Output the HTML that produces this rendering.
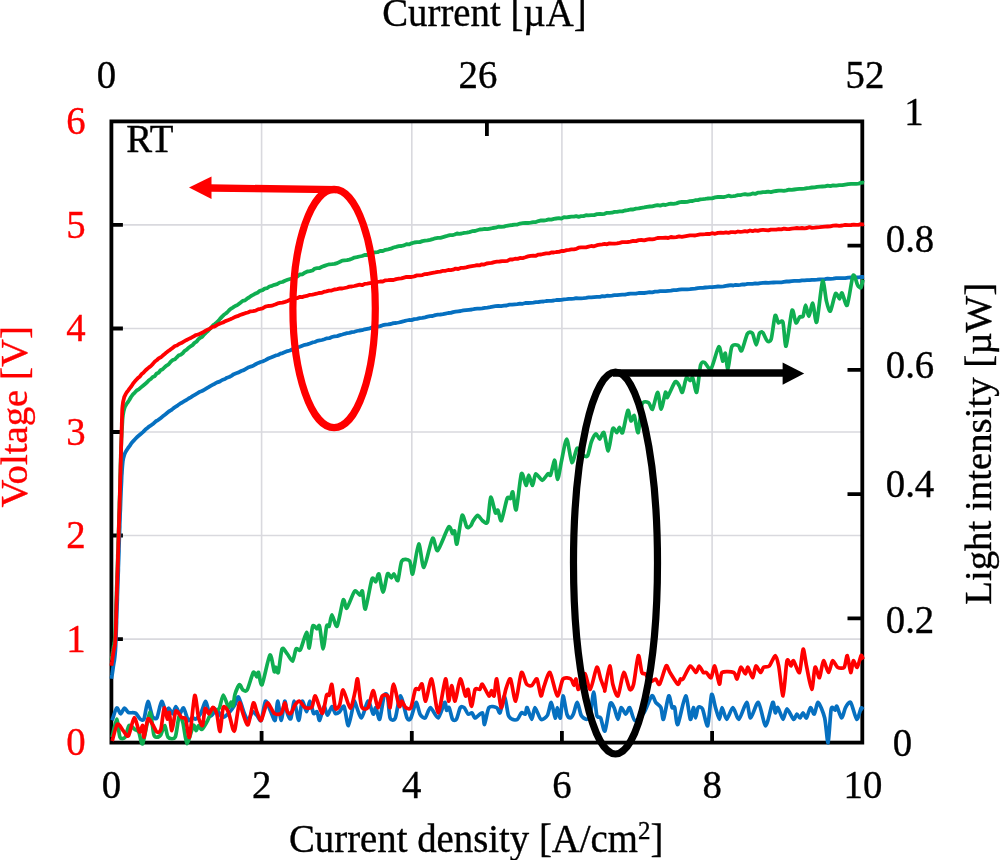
<!DOCTYPE html>
<html lang="en"><head><meta charset="utf-8"><title>I-V-L characteristics</title>
<style>html,body{margin:0;padding:0;background:#fff}body{width:1000px;height:860px;overflow:hidden}svg{display:block}text{font-family:"Liberation Serif","Times New Roman",serif;font-size:38.8px;stroke-width:.35px}</style></head><body>
<svg width="1000" height="860" viewBox="0 0 1000 860">
<rect width="1000" height="860" fill="#fff"/>
<path d="M261.6,121.4 V742.6 M411.8,121.4 V742.6 M561.9,121.4 V742.6 M712.1,121.4 V742.6 M111.4,639.1 H862.3 M111.4,535.5 H862.3 M111.4,432.0 H862.3 M111.4,328.5 H862.3 M111.4,224.9 H862.3" stroke="#d9d9de" stroke-width="1.6" fill="none"/>
<path d="M111.4,639.1 h11.5 M111.4,535.5 h11.5 M111.4,432.0 h11.5 M111.4,328.5 h11.5 M111.4,224.9 h11.5 M862.3,618.4 h-14.8 M862.3,494.1 h-14.8 M862.3,369.9 h-14.8 M862.3,245.6 h-14.8 M261.6,742.6 v-11.5 M411.8,742.6 v-11.5 M561.9,742.6 v-11.5 M712.1,742.6 v-11.5 M486.9,121.4 v14.7" stroke="#000" stroke-width="3.8" fill="none"/>
<rect x="111.4" y="121.4" width="750.9" height="621.2" fill="none" stroke="#000" stroke-width="3.8"/>
<path d="M111.4,678.7 L111.6,677.2 L112.0,675.1 L112.4,672.6 L112.8,669.9 L113.2,667.0 L113.5,665.0 L113.8,663.1 L114.2,661.2 L114.5,659.0 L114.8,656.5 L115.1,653.6 L115.4,650.0 L115.5,648.1 L115.6,646.0 L115.7,643.7 L115.8,641.3 L115.9,638.9 L116.0,636.3 L116.1,633.6 L116.2,630.9 L116.3,628.1 L116.4,625.4 L116.5,622.6 L116.5,619.9 L116.6,617.2 L116.7,614.5 L116.8,612.0 L116.9,609.4 L117.0,606.8 L117.1,604.3 L117.2,601.9 L117.3,599.4 L117.3,597.0 L117.4,594.6 L117.5,592.1 L117.6,589.5 L117.7,586.9 L117.8,584.1 L117.9,581.2 L118.0,578.2 L118.1,575.0 L118.2,572.7 L118.3,570.4 L118.3,567.9 L118.4,565.4 L118.5,562.7 L118.6,560.0 L118.7,557.3 L118.8,554.5 L118.9,551.6 L118.9,548.8 L119.0,546.0 L119.1,543.1 L119.2,540.3 L119.3,537.5 L119.4,534.8 L119.5,532.1 L119.6,529.5 L119.7,527.0 L119.7,524.5 L119.8,522.2 L119.9,520.0 L120.0,516.6 L120.1,513.3 L120.3,510.1 L120.4,507.1 L120.5,504.1 L120.6,501.3 L120.7,498.6 L120.8,496.0 L120.9,493.6 L121.0,491.2 L121.1,489.0 L121.2,486.9 L121.3,485.0 L121.5,480.8 L121.6,477.7 L121.7,475.3 L121.9,473.2 L122.0,471.0 L122.2,468.2 L122.4,465.7 L122.6,463.5 L122.8,461.5 L123.3,458.4 L124.0,456.0 L124.5,454.2 L125.7,451.7 L126.8,450.0 L128.1,448.0 L129.7,445.9 L131.4,443.3 L133.3,441.1 L135.0,439.3 L136.9,437.2 L138.9,435.5 L141.0,433.7 L143.2,431.9 L145.4,429.6 L147.4,428.0 L149.4,426.3 L151.4,425.1 L153.6,423.4 L155.8,421.3 L158.1,420.1 L160.5,418.3 L162.5,416.6 L164.5,415.1 L166.7,413.2 L168.8,411.5 L171.1,410.2 L173.3,408.4 L175.5,406.8 L177.8,405.3 L180.0,403.7 L182.2,402.5 L184.3,401.1 L186.4,400.0 L188.6,398.5 L190.7,397.3 L192.9,395.9 L195.2,394.6 L197.6,393.2 L200.0,391.7 L202.0,391.0 L204.1,389.8 L206.1,388.6 L208.2,387.4 L210.3,386.1 L212.5,384.9 L214.8,383.7 L217.1,382.4 L219.6,381.6 L222.2,380.0 L225.0,379.0 L227.0,377.7 L229.2,377.0 L231.4,375.8 L233.8,374.2 L236.2,373.2 L238.7,372.4 L241.2,371.0 L243.8,370.1 L246.3,368.6 L248.8,367.2 L251.3,366.4 L253.7,365.4 L256.1,364.0 L258.3,362.9 L260.5,362.0 L262.5,361.5 L265.5,360.1 L268.3,358.5 L270.9,357.5 L273.4,356.4 L275.8,355.4 L278.1,355.0 L280.4,353.7 L282.7,353.1 L285.1,352.1 L287.5,351.1 L290.0,350.5 L292.5,349.2 L294.9,348.6 L297.4,347.4 L299.8,346.7 L302.3,345.7 L304.8,344.8 L307.3,344.4 L309.9,343.5 L312.5,342.4 L314.9,342.0 L317.2,340.9 L319.6,340.4 L322.0,340.0 L324.4,339.2 L326.9,338.3 L329.3,338.2 L331.9,337.0 L334.5,336.4 L337.2,336.1 L340.0,335.1 L342.3,334.5 L344.6,333.8 L347.0,333.2 L349.4,332.9 L351.9,332.1 L354.4,331.8 L356.9,331.0 L359.5,330.5 L362.1,330.2 L364.7,329.3 L367.3,328.8 L369.9,328.3 L372.4,327.4 L375.0,326.8 L377.6,326.7 L380.2,326.1 L382.8,325.2 L385.5,324.6 L388.1,324.4 L390.8,324.0 L393.5,323.1 L396.1,323.0 L398.8,322.5 L401.4,321.8 L404.0,321.2 L406.5,320.5 L409.0,320.0 L411.5,320.1 L414.3,319.1 L417.0,318.9 L419.7,318.1 L422.4,317.9 L425.0,317.3 L427.5,316.6 L430.1,316.1 L432.6,316.0 L435.2,315.1 L437.8,314.7 L440.4,314.5 L443.0,314.2 L445.6,313.6 L448.2,313.0 L450.7,312.9 L453.1,312.1 L455.6,311.6 L458.2,311.3 L460.7,311.0 L463.4,310.4 L466.1,310.1 L468.9,309.8 L471.9,309.5 L475.0,308.8 L477.3,308.6 L479.7,308.6 L482.2,308.4 L484.8,307.9 L487.4,307.6 L490.1,307.2 L492.8,306.6 L495.5,306.2 L498.3,305.9 L501.1,306.1 L503.9,305.7 L506.6,305.5 L509.4,304.7 L512.1,304.7 L514.8,304.4 L517.4,304.2 L520.0,303.7 L522.7,303.8 L525.4,303.0 L528.0,303.0 L530.7,302.8 L533.3,302.6 L535.9,302.2 L538.5,302.0 L541.1,301.7 L543.7,301.5 L546.2,301.0 L548.8,300.9 L551.3,300.8 L553.9,300.5 L556.4,300.0 L558.9,300.0 L561.4,299.8 L564.0,299.4 L566.6,299.2 L569.0,298.9 L571.5,298.8 L573.9,298.6 L576.3,298.1 L578.6,298.3 L581.1,298.3 L583.5,298.1 L586.0,297.8 L588.6,297.4 L591.3,297.4 L594.1,297.1 L597.0,296.8 L600.0,296.8 L602.3,296.2 L604.6,296.4 L607.0,295.7 L609.4,295.9 L611.9,295.6 L614.5,295.2 L617.0,295.2 L619.7,294.9 L622.3,294.7 L625.0,294.7 L627.7,294.0 L630.4,293.7 L633.2,293.6 L635.9,293.6 L638.7,293.0 L641.4,292.8 L644.2,293.0 L646.9,292.6 L649.6,292.2 L652.3,292.3 L655.0,291.7 L657.6,291.7 L660.2,291.2 L662.8,291.1 L665.5,291.1 L668.2,290.9 L670.9,290.7 L673.6,290.2 L676.4,290.1 L679.1,289.7 L681.8,289.3 L684.6,289.3 L687.3,289.3 L689.9,289.1 L692.6,288.8 L695.2,288.7 L697.8,288.1 L700.3,287.9 L702.8,287.8 L705.2,287.5 L707.5,287.3 L709.8,287.2 L712.0,287.2 L715.1,286.8 L718.0,286.5 L720.8,286.6 L723.5,286.4 L726.0,285.9 L728.5,285.5 L730.9,285.2 L733.3,285.5 L735.6,284.8 L738.0,285.1 L740.3,284.8 L742.6,284.4 L745.0,284.5 L747.5,283.9 L750.0,283.8 L752.6,283.8 L755.2,283.4 L757.8,283.7 L760.4,283.1 L763.0,282.9 L765.7,282.7 L768.3,282.9 L770.9,282.6 L773.6,282.5 L776.2,282.4 L778.8,282.3 L781.4,282.3 L783.9,281.9 L786.5,281.5 L789.0,281.5 L791.7,281.1 L794.3,280.8 L796.9,280.9 L799.4,280.9 L802.0,280.4 L804.5,280.3 L807.0,280.1 L809.5,280.2 L812.0,279.9 L814.6,279.8 L817.1,279.7 L819.7,279.3 L822.3,279.3 L825.0,279.2 L827.6,278.6 L830.4,278.9 L833.2,278.6 L836.2,278.1 L839.2,278.1 L842.3,278.1 L845.3,278.1 L848.2,277.6 L851.1,277.5 L853.8,277.6 L856.3,277.4 L858.6,277.4 L860.7,277.0 L862.5,277.0 L864.0,276.8" fill="none" stroke="#0670c0" stroke-width="3.8" stroke-linejoin="round" stroke-linecap="butt"/>
<path d="M112.2,720.3 C112.7,718.8 115.6,708.8 116.7,708.0 C117.8,707.1 119.6,713.8 120.6,713.8 C121.6,713.8 123.5,708.1 124.5,708.0 C125.5,707.8 127.0,711.9 128.4,712.5 C129.8,713.1 134.1,712.3 135.6,713.1 C137.0,714.0 139.0,718.3 140.1,719.0 C141.2,719.7 143.0,721.2 144.0,719.0 C145.0,716.8 146.8,701.8 147.9,701.5 C149.0,701.1 151.3,714.4 152.4,716.4 C153.6,718.4 155.9,719.6 157.0,717.7 C158.1,715.8 160.4,702.1 161.6,701.5 C162.7,700.8 165.2,711.7 166.1,712.5 C167.0,713.3 167.9,707.8 168.7,708.0 C169.5,708.1 171.7,714.0 172.6,713.8 C173.5,713.6 175.0,706.6 175.8,706.6 C176.7,706.6 178.8,713.6 179.8,713.8 C180.7,714.0 182.6,707.1 183.6,708.0 C184.7,708.8 187.1,719.1 188.2,720.3 C189.3,721.5 191.1,717.9 192.1,717.7 C193.1,717.5 194.9,719.6 196.0,719.0 C197.1,718.4 200.0,714.7 201.2,712.5 C202.4,710.3 204.6,701.0 205.8,701.5 C206.9,701.9 208.9,715.0 210.3,716.0 C211.7,717.0 215.3,709.3 216.8,709.5 C218.3,709.7 220.5,716.8 222.0,717.3 C223.5,717.8 226.9,715.0 228.5,713.4 C230.1,711.8 233.8,706.8 235.0,704.7 C236.2,702.6 237.4,696.0 238.5,696.9 C239.6,697.7 242.5,708.7 243.7,711.7 C244.9,714.6 247.0,720.4 248.1,720.4 C249.2,720.4 251.4,712.3 252.5,711.7 C253.5,711.0 255.7,714.1 256.8,715.2 C257.9,716.3 260.1,722.2 261.2,720.4 C262.3,718.7 264.3,702.3 265.5,701.2 C266.7,700.1 269.6,709.3 270.8,711.7 C272.0,714.1 274.3,721.7 275.1,720.4 C276.0,719.1 277.0,701.2 277.8,701.2 C278.5,701.2 280.4,720.4 281.2,720.4 C282.1,720.4 284.0,702.1 284.7,701.2 C285.5,700.3 286.6,711.3 287.4,713.4 C288.1,715.6 290.0,720.2 290.8,718.7 C291.7,717.1 293.4,701.0 294.3,701.2 C295.3,701.4 297.7,720.4 298.7,720.4 C299.7,720.4 301.2,702.3 302.2,701.2 C303.2,700.1 305.6,711.7 306.6,711.7 C307.5,711.7 309.2,701.0 310.0,701.2 C310.9,701.4 312.7,712.1 313.5,713.4 C314.4,714.7 316.3,710.8 317.0,711.7 C317.8,712.6 318.8,721.1 319.6,720.4 C320.5,719.8 323.0,707.1 324.0,706.5 C325.0,705.8 326.5,715.2 327.5,715.2 C328.5,715.2 330.9,706.7 331.9,706.5 C332.8,706.2 334.4,712.8 335.3,713.4 C336.3,714.1 338.6,712.6 339.7,711.7 C340.8,710.8 343.0,704.7 344.1,706.5 C345.2,708.2 347.2,726.1 348.4,725.7 C349.6,725.2 352.9,705.9 353.7,703.0 C354.5,700.1 354.0,700.5 355.0,702.4 C356.0,704.3 359.9,718.2 361.5,718.0 C363.1,717.8 366.5,701.6 368.0,701.1 C369.5,700.6 372.2,713.3 373.2,714.1 C374.2,714.9 375.0,707.0 375.8,707.6 C376.6,708.2 378.7,720.8 379.7,719.3 C380.7,717.8 383.1,698.8 384.1,695.9 C385.1,693.0 386.8,693.1 387.5,695.9 C388.2,698.7 389.1,715.2 390.1,718.0 C391.1,720.8 394.0,720.8 395.3,718.0 C396.6,715.2 399.0,695.9 400.5,695.9 C402.0,695.9 405.7,715.2 407.0,718.0 C408.3,720.8 409.8,720.0 410.9,718.0 C412.0,716.0 415.0,702.9 416.1,702.4 C417.2,701.9 418.9,712.1 420.0,714.1 C421.1,716.1 423.9,718.8 425.2,718.0 C426.5,717.2 428.8,707.6 430.4,707.6 C432.0,707.6 436.4,718.6 438.2,718.0 C440.0,717.4 443.7,703.4 444.7,702.4 C445.7,701.4 446.0,709.6 446.5,710.2 C447.1,710.9 448.4,706.5 449.1,707.6 C449.9,708.7 451.6,717.8 452.5,719.3 C453.4,720.8 455.4,720.8 456.4,719.3 C457.4,717.8 459.3,709.1 460.3,707.6 C461.3,706.1 463.2,706.8 464.2,707.6 C465.2,708.4 467.1,713.5 468.1,714.1 C469.1,714.8 471.1,712.3 472.0,712.8 C472.9,713.3 473.8,718.0 475.1,718.0 C476.4,718.0 481.2,712.0 482.4,712.8 C483.6,713.6 483.7,725.1 484.5,724.5 C485.3,723.9 487.4,709.7 488.9,707.6 C490.4,705.5 495.3,707.0 496.7,707.6 C498.1,708.2 499.1,714.3 500.1,712.8 C501.1,711.3 503.5,695.6 504.5,695.9 C505.5,696.2 507.4,712.5 508.4,715.4 C509.4,718.3 511.2,718.8 512.3,719.3 C513.4,719.8 516.4,720.1 517.5,719.3 C518.6,718.5 520.4,713.4 521.4,712.8 C522.4,712.1 524.6,714.8 525.3,714.1 C526.0,713.5 526.3,707.0 527.1,707.6 C527.9,708.2 530.8,719.3 531.8,719.3 C532.8,719.3 533.8,707.6 534.9,707.6 C536.1,707.6 539.3,718.3 540.9,719.3 C542.5,720.3 546.1,717.5 547.4,715.4 C548.7,713.3 550.3,702.1 551.3,702.4 C552.3,702.7 554.5,717.4 555.2,718.0 C555.9,718.6 556.6,707.6 557.3,707.6 C557.9,707.6 559.7,719.5 560.4,718.0 C561.1,716.5 562.2,696.4 563.0,695.9 C563.8,695.4 566.0,711.3 566.9,714.1 C567.8,716.9 569.5,718.0 570.3,718.0 C571.1,718.0 572.5,716.1 573.4,714.1 C574.3,712.1 576.3,702.2 577.3,702.4 C578.3,702.6 580.1,713.3 581.2,715.4 C582.3,717.5 585.3,719.3 586.4,719.3 C587.5,719.3 589.4,718.8 590.3,715.4 C591.2,712.0 592.9,692.0 593.7,692.0 C594.5,692.0 595.9,712.1 596.8,715.4 C597.7,718.6 599.7,716.0 600.7,718.0 C601.7,720.0 603.8,732.8 605.0,731.0 C606.2,729.2 609.1,706.6 610.2,703.7 C611.3,700.8 613.1,705.7 614.1,707.6 C615.1,709.5 617.1,719.3 618.0,719.3 C618.9,719.3 620.1,708.2 621.1,707.6 C622.1,707.0 624.7,714.1 625.8,714.1 C626.9,714.1 628.6,706.8 629.7,707.6 C630.8,708.4 633.1,720.0 634.9,720.6 C636.7,721.2 641.9,715.9 644.0,712.8 C646.1,709.7 650.3,697.2 651.8,695.9 C653.3,694.6 654.6,700.9 655.7,702.4 C656.8,703.9 659.9,705.5 660.9,707.6 C661.9,709.7 662.5,720.8 663.5,719.3 C664.5,717.8 667.6,697.4 668.7,695.9 C669.8,694.4 671.3,706.1 672.1,707.6 C672.8,709.1 674.0,705.5 674.7,707.6 C675.4,709.7 676.4,726.0 677.8,724.5 C679.2,723.0 684.0,696.5 685.6,695.9 C687.2,695.2 689.3,717.8 690.3,719.3 C691.3,720.8 692.8,707.8 693.4,707.6 C694.0,707.4 694.9,718.0 695.5,718.0 C696.1,718.0 697.2,708.7 698.1,707.6 C699.0,706.5 701.3,706.6 702.5,708.9 C703.7,711.2 706.6,727.6 707.7,725.8 C708.8,724.0 710.6,696.9 711.6,694.6 C712.6,692.3 714.5,704.5 715.5,707.6 C716.5,710.7 718.6,719.3 719.4,719.3 C720.2,719.3 721.1,707.6 722.0,707.6 C722.9,707.6 725.3,719.3 726.7,719.3 C728.0,719.3 731.4,707.6 732.9,707.6 C734.4,707.6 737.2,719.9 738.9,719.3 C740.6,718.6 745.2,702.6 746.7,702.4 C748.2,702.2 749.1,718.0 750.6,718.0 C752.1,718.0 756.5,701.4 758.4,702.4 C760.3,703.4 763.9,725.8 765.7,725.8 C767.5,725.8 771.5,704.0 772.7,702.4 C773.9,700.8 774.6,712.1 775.3,712.8 C775.9,713.4 776.9,706.8 777.9,707.6 C778.9,708.4 782.0,719.1 783.1,719.3 C784.2,719.5 785.7,708.9 787.0,708.9 C788.3,708.9 792.3,718.6 793.5,719.3 C794.7,719.9 796.1,714.3 796.9,714.1 C797.7,713.9 799.2,718.2 800.0,718.0 C800.8,717.8 802.3,712.8 803.1,712.8 C803.9,712.8 805.6,718.6 806.5,718.0 C807.4,717.4 809.4,708.1 810.4,707.6 C811.4,707.1 813.3,714.8 814.3,714.1 C815.3,713.5 816.9,701.9 818.2,702.4 C819.5,702.9 823.5,713.0 824.7,718.0 C825.9,723.0 827.3,743.8 828.1,742.7 C828.9,741.6 830.3,713.0 831.2,708.9 C832.1,704.8 834.4,710.5 835.1,710.2 C835.8,709.9 836.1,705.3 836.9,706.3 C837.7,707.3 840.5,717.8 841.6,718.0 C842.7,718.2 844.4,709.6 845.5,707.6 C846.6,705.6 849.3,700.9 850.7,702.4 C852.1,703.9 855.4,718.6 856.7,719.3 C858.0,720.0 860.3,709.3 861.1,708.1 C861.9,706.9 862.9,709.5 863.2,709.7" fill="none" stroke="#0670c0" stroke-width="3.7" stroke-linejoin="round" stroke-linecap="butt"/>
<path d="M111.4,660.0 L111.7,658.4 L112.1,656.1 L112.5,653.4 L113.0,650.6 L113.4,648.0 L113.7,646.0 L114.1,644.4 L114.4,642.7 L114.7,640.1 L115.0,636.0 L115.1,634.2 L115.2,632.2 L115.3,630.1 L115.4,627.7 L115.5,625.3 L115.6,622.7 L115.7,620.0 L115.8,617.2 L115.9,614.4 L115.9,611.6 L116.0,608.8 L116.1,606.0 L116.2,603.3 L116.3,600.6 L116.4,598.0 L116.5,595.5 L116.6,593.1 L116.7,590.8 L116.7,588.4 L116.8,586.1 L116.9,583.9 L117.0,581.5 L117.1,579.2 L117.1,576.8 L117.2,574.3 L117.3,571.7 L117.4,569.0 L117.5,566.2 L117.6,563.2 L117.7,560.0 L117.8,557.8 L117.8,555.6 L117.9,553.2 L118.0,550.8 L118.1,548.3 L118.2,545.7 L118.2,543.1 L118.3,540.5 L118.4,537.8 L118.5,535.1 L118.6,532.3 L118.7,529.6 L118.8,526.8 L118.9,524.0 L118.9,521.2 L119.0,518.5 L119.1,515.7 L119.2,513.0 L119.3,510.3 L119.4,507.6 L119.4,505.0 L119.5,502.5 L119.6,500.0 L119.7,497.2 L119.8,494.3 L119.9,491.4 L119.9,488.5 L120.0,485.5 L120.1,482.6 L120.2,479.7 L120.2,476.8 L120.3,473.9 L120.4,471.1 L120.5,468.4 L120.5,465.6 L120.6,463.0 L120.7,460.4 L120.8,457.9 L120.8,455.5 L120.9,453.2 L121.0,451.0 L121.0,448.9 L121.1,447.0 L121.3,442.7 L121.4,439.0 L121.6,435.9 L121.7,433.3 L121.8,431.0 L122.0,428.9 L122.1,426.9 L122.2,425.0 L122.4,421.7 L122.5,419.3 L122.7,417.4 L122.9,415.5 L123.3,413.1 L123.7,410.9 L124.2,409.0 L124.9,406.8 L126.5,404.0 L127.7,402.3 L129.3,400.0 L131.0,397.0 L132.9,394.4 L134.8,392.6 L136.7,390.5 L138.7,389.4 L140.7,387.6 L143.0,385.7 L145.4,383.7 L147.1,382.3 L148.9,380.3 L150.8,379.0 L152.7,377.0 L154.7,376.2 L156.7,373.5 L158.6,372.7 L160.5,370.3 L162.6,369.3 L164.6,367.2 L166.6,365.6 L168.6,364.4 L170.7,361.8 L172.8,360.1 L175.0,359.2 L176.8,357.3 L178.7,355.4 L180.7,354.8 L182.7,353.2 L184.7,350.8 L186.7,349.6 L188.7,347.7 L190.6,346.3 L192.5,345.1 L194.5,342.9 L196.5,341.7 L198.4,339.3 L200.3,337.7 L202.2,336.7 L204.0,334.5 L205.8,332.8 L207.5,331.4 L209.4,329.3 L211.3,327.4 L213.2,325.1 L214.9,324.0 L216.7,322.5 L218.4,320.9 L220.0,318.9 L222.1,316.6 L223.9,314.8 L225.8,313.5 L227.7,311.8 L230.0,309.4 L231.9,308.2 L233.8,306.9 L235.9,305.7 L238.1,304.6 L240.4,302.8 L242.7,300.9 L245.0,300.4 L247.0,298.7 L249.0,297.5 L251.0,296.0 L253.1,294.9 L255.3,293.6 L257.5,292.8 L259.9,290.8 L262.5,290.1 L264.7,288.6 L267.0,288.2 L269.4,286.5 L272.0,285.8 L274.5,284.8 L277.1,284.2 L279.8,282.5 L282.4,282.0 L285.0,280.7 L287.5,279.8 L290.0,279.0 L292.5,278.5 L294.9,276.9 L297.4,276.4 L299.8,274.5 L302.3,274.3 L304.8,272.7 L307.3,271.5 L309.9,271.2 L312.5,270.5 L314.9,268.6 L317.2,268.2 L319.6,268.0 L322.0,266.8 L324.4,265.9 L326.9,265.0 L329.3,264.3 L331.9,264.2 L334.5,263.9 L337.2,263.1 L340.0,261.8 L342.3,260.6 L344.6,260.3 L347.0,260.2 L349.4,259.6 L351.9,258.7 L354.4,257.6 L356.9,257.2 L359.5,256.5 L362.1,256.0 L364.7,254.9 L367.3,255.0 L369.9,254.3 L372.4,252.8 L375.0,252.3 L377.6,252.2 L380.2,250.9 L382.8,251.0 L385.5,249.8 L388.1,249.3 L390.8,248.7 L393.5,247.5 L396.1,246.9 L398.8,246.2 L401.4,246.0 L404.0,245.4 L406.5,244.2 L409.0,244.4 L411.5,243.3 L414.3,242.5 L417.0,242.1 L419.7,242.1 L422.4,241.1 L425.0,240.6 L427.5,240.4 L430.1,239.9 L432.6,239.2 L435.2,238.3 L437.8,237.9 L440.4,237.8 L443.0,237.1 L445.4,236.4 L447.8,235.7 L450.1,235.2 L452.4,235.2 L454.7,234.5 L457.0,233.5 L459.3,233.8 L461.7,233.5 L464.2,232.9 L466.7,232.6 L469.4,232.1 L472.1,231.2 L475.0,231.0 L477.3,230.2 L479.7,229.5 L482.2,229.4 L484.8,228.9 L487.4,229.2 L490.1,228.6 L492.8,228.0 L495.5,227.7 L498.3,226.7 L501.1,226.8 L503.9,226.6 L506.6,225.8 L509.4,225.3 L512.1,225.0 L514.8,224.6 L517.4,224.6 L520.0,223.6 L522.7,223.2 L525.4,223.0 L528.0,223.0 L530.7,222.7 L533.3,222.2 L535.9,222.1 L538.5,221.1 L541.1,220.4 L543.7,220.5 L546.2,220.1 L548.8,219.4 L551.3,219.6 L553.9,218.9 L556.4,218.5 L558.9,218.2 L561.4,218.6 L564.0,217.2 L566.6,217.3 L569.0,217.0 L571.5,216.7 L573.9,216.7 L576.3,216.2 L578.6,216.8 L581.1,216.1 L583.5,216.1 L586.0,215.2 L588.6,215.3 L591.3,215.2 L594.1,215.1 L597.0,214.1 L600.0,214.0 L602.3,214.1 L604.6,213.8 L607.0,212.8 L609.4,212.8 L611.9,212.7 L614.5,211.9 L617.0,211.8 L619.7,211.4 L622.3,211.4 L625.0,210.5 L627.7,210.2 L630.4,209.5 L633.2,209.5 L635.9,208.6 L638.7,208.4 L641.4,207.8 L644.2,207.4 L646.9,206.8 L649.6,206.5 L652.3,206.4 L655.0,205.7 L657.6,205.1 L660.2,205.6 L662.8,204.7 L665.5,205.0 L668.2,204.2 L670.9,203.6 L673.6,203.8 L676.4,203.4 L679.1,202.4 L681.8,201.8 L684.6,202.0 L687.3,201.8 L689.9,201.2 L692.6,201.0 L695.2,200.2 L697.8,200.1 L700.3,199.4 L702.8,199.2 L705.2,198.9 L707.5,198.5 L709.8,198.3 L712.0,198.4 L715.1,197.4 L718.0,197.0 L720.8,196.8 L723.5,197.2 L726.0,196.5 L728.5,195.7 L730.9,196.3 L733.3,196.1 L735.6,195.8 L738.0,195.1 L740.3,195.2 L742.6,194.5 L745.0,194.1 L747.5,194.7 L750.0,194.4 L752.6,193.4 L755.2,193.9 L757.8,192.7 L760.4,192.7 L763.0,192.1 L765.7,192.0 L768.3,191.7 L770.9,192.1 L773.6,191.4 L776.2,191.0 L778.8,190.7 L781.4,190.6 L783.9,190.9 L786.5,190.4 L789.0,189.6 L791.7,189.9 L794.3,189.5 L796.9,189.1 L799.4,188.9 L802.0,188.8 L804.5,188.7 L807.0,188.1 L809.5,187.9 L812.0,187.5 L814.6,187.4 L817.1,186.9 L819.7,186.6 L822.3,186.5 L825.0,186.4 L827.6,185.7 L830.4,186.2 L833.2,185.4 L836.2,185.6 L839.2,185.2 L842.3,185.2 L845.3,184.6 L848.2,184.1 L851.1,183.9 L853.8,183.9 L856.3,183.8 L858.6,183.7 L860.7,182.8 L862.5,182.5 L864.0,182.9" fill="none" stroke="#0fae51" stroke-width="3.8" stroke-linejoin="round" stroke-linecap="butt"/>
<path d="M112.2,737.2 C112.7,734.9 115.7,719.0 116.7,719.0 C117.7,719.0 118.9,734.9 120.0,737.2 C121.0,739.5 124.0,738.7 125.2,737.2 C126.3,735.7 127.8,726.5 129.1,725.5 C130.3,724.5 133.7,728.6 134.9,729.4 C136.1,730.2 137.8,730.2 138.8,732.0 C139.8,733.8 141.3,746.1 142.7,743.7 C144.1,741.3 148.5,713.6 149.8,712.5 C151.2,711.4 152.9,731.5 153.8,734.6 C154.6,737.7 156.1,737.2 157.0,737.2 C157.9,737.2 159.9,736.1 160.9,734.6 C161.9,733.1 163.9,725.2 164.8,725.5 C165.7,725.8 166.8,735.7 168.1,737.2 C169.4,738.7 173.8,739.8 175.2,737.2 C176.6,734.6 178.1,718.2 179.1,716.4 C180.1,714.6 182.0,719.5 183.0,722.9 C184.0,726.3 185.6,743.4 186.9,743.7 C188.2,744.0 192.3,727.1 193.4,725.5 C194.5,723.9 195.3,730.7 196.0,730.7 C196.7,730.7 197.9,725.7 198.6,725.5 C199.3,725.3 200.7,730.0 201.8,729.4 C203.0,728.8 206.3,723.0 207.7,720.3 C209.1,717.6 211.9,709.2 212.9,708.0 C213.9,706.7 214.7,710.5 215.5,710.5 C216.3,710.5 218.4,709.9 219.4,708.0 C220.4,706.0 222.2,695.0 223.3,695.0 C224.4,694.9 227.5,706.4 228.5,707.3 C229.5,708.2 230.5,702.3 231.1,702.1 C231.7,701.9 232.6,707.0 233.0,706.0 C233.5,705.0 234.2,696.9 235.0,694.2 C235.8,691.6 238.4,685.2 239.4,684.6 C240.3,684.1 241.9,689.2 242.9,689.9 C243.8,690.5 245.9,692.1 247.2,689.9 C248.5,687.7 252.1,674.1 253.3,672.4 C254.5,670.8 256.2,676.8 256.8,676.8 C257.5,676.8 257.9,671.4 258.6,672.4 C259.2,673.4 260.6,686.8 262.1,684.6 C263.5,682.5 268.4,656.6 269.9,655.0 C271.4,653.3 273.5,670.0 274.3,671.6 C275.0,673.1 275.5,667.1 276.0,667.2 C276.5,667.3 277.5,674.7 278.3,672.4 C279.0,670.1 281.0,651.2 282.1,648.9 C283.3,646.6 286.0,652.6 287.4,654.1 C288.7,655.6 291.5,661.7 292.6,661.1 C293.7,660.4 295.1,650.3 296.1,648.9 C297.1,647.4 299.1,651.8 300.4,649.7 C301.8,647.7 305.5,632.5 306.6,632.3 C307.6,632.1 308.4,648.8 309.2,648.0 C309.9,647.2 311.7,628.6 312.7,626.2 C313.6,623.8 316.2,628.8 317.0,628.8 C317.9,628.8 318.9,623.7 319.6,626.2 C320.4,628.7 322.3,648.9 323.1,648.9 C324.0,648.9 325.9,629.0 326.6,626.2 C327.4,623.3 328.6,627.6 329.2,626.2 C329.9,624.8 330.9,614.8 331.9,614.8 C332.8,614.8 335.7,628.0 337.1,626.2 C338.5,624.3 342.0,602.3 343.2,600.0 C344.4,597.7 345.4,609.2 346.8,608.1 C348.2,607.0 353.0,592.8 354.6,591.2 C356.2,589.6 358.8,595.1 359.8,595.1 C360.8,595.1 361.7,589.5 362.4,591.2 C363.1,592.9 364.2,610.5 365.4,609.0 C366.6,607.5 370.6,582.5 371.9,579.1 C373.2,575.7 374.9,582.4 375.8,581.7 C376.7,581.1 378.0,572.6 378.9,573.9 C379.8,575.2 382.0,592.1 383.1,592.1 C384.2,592.1 386.5,575.7 387.5,573.9 C388.5,572.1 390.6,577.8 391.4,577.8 C392.2,577.8 393.2,573.6 394.0,573.9 C394.8,574.2 396.9,582.0 397.9,580.4 C398.9,578.8 400.3,563.3 401.8,560.9 C403.3,558.5 408.2,559.3 409.6,560.9 C411.0,562.5 411.6,576.0 412.7,573.9 C413.9,571.8 417.3,544.8 418.7,544.0 C420.1,543.2 422.2,568.1 423.9,567.4 C425.6,566.7 430.8,540.4 432.5,538.3 C434.2,536.2 435.7,551.9 437.7,550.5 C439.7,549.1 446.7,529.2 448.6,527.1 C450.5,525.0 451.8,533.1 452.5,533.6 C453.2,534.1 454.0,529.7 454.6,531.0 C455.1,532.3 456.0,546.0 456.9,544.0 C457.9,542.0 460.9,517.5 462.1,515.4 C463.4,513.3 465.7,525.8 466.8,527.1 C467.9,528.4 469.9,526.6 470.7,525.8 C471.5,525.0 472.4,521.9 473.3,520.6 C474.2,519.3 476.6,515.4 477.7,515.4 C478.9,515.4 481.2,519.8 482.4,520.6 C483.6,521.4 486.6,524.8 487.6,521.9 C488.6,519.0 489.7,498.3 490.7,497.2 C491.7,496.1 494.5,511.2 495.4,512.8 C496.3,514.4 497.3,509.2 498.0,510.2 C498.7,511.2 500.2,522.1 501.4,520.6 C502.5,519.1 506.0,501.3 507.1,498.5 C508.2,495.7 509.8,499.3 510.5,498.5 C511.2,497.7 512.1,490.6 512.8,492.0 C513.5,493.4 515.1,512.0 516.2,509.7 C517.3,507.4 520.2,476.8 521.4,473.8 C522.6,470.8 525.2,485.3 526.1,485.5 C527.0,485.7 527.9,475.1 528.7,475.1 C529.5,475.1 531.7,485.7 532.6,485.5 C533.5,485.3 534.5,474.4 535.7,473.8 C536.9,473.2 540.7,480.3 542.2,480.3 C543.7,480.3 546.9,474.4 547.9,473.8 C549.0,473.2 549.8,476.6 550.5,475.1 C551.3,473.6 553.3,463.8 553.9,462.1 C554.5,460.4 554.5,459.0 555.0,461.2 C555.5,463.4 556.8,479.4 557.6,479.4 C558.4,479.4 560.4,466.2 561.5,461.2 C562.6,456.2 565.4,438.9 566.7,439.1 C568.0,439.3 570.6,461.4 571.9,462.5 C573.2,463.6 575.8,449.2 577.1,448.2 C578.4,447.2 581.0,453.7 582.3,454.7 C583.6,455.7 586.4,457.6 587.5,456.0 C588.6,454.4 590.3,444.5 591.4,441.7 C592.5,438.9 595.0,434.2 596.1,433.9 C597.1,433.6 598.7,439.3 599.7,439.1 C600.7,438.9 602.8,431.1 603.9,432.6 C605.0,434.1 607.2,451.3 608.3,450.8 C609.4,450.3 611.6,431.0 612.7,428.7 C613.8,426.4 616.0,432.8 616.9,432.6 C617.7,432.4 618.8,427.4 619.5,427.4 C620.2,427.4 621.6,434.7 622.6,432.6 C623.6,430.5 626.8,412.0 627.8,410.5 C628.8,409.0 630.1,420.2 630.9,420.9 C631.7,421.5 633.4,414.2 634.3,415.7 C635.2,417.2 637.2,434.1 638.2,432.6 C639.2,431.1 640.8,407.7 642.1,404.0 C643.4,400.3 647.3,402.1 648.6,402.7 C649.9,403.3 651.4,410.5 652.5,409.2 C653.6,407.9 656.6,392.3 657.7,392.3 C658.8,392.3 660.1,409.2 661.1,409.2 C662.1,409.2 664.7,393.8 665.5,392.3 C666.3,390.8 666.1,398.8 667.3,397.5 C668.5,396.2 673.6,383.4 675.1,381.9 C676.6,380.4 678.4,384.5 679.3,385.8 C680.2,387.1 681.5,393.3 682.4,392.3 C683.3,391.3 685.3,379.5 686.3,378.0 C687.3,376.5 689.4,380.6 690.2,380.6 C691.0,380.6 692.0,376.5 692.8,378.0 C693.6,379.5 695.7,393.9 696.7,392.3 C697.7,390.7 699.6,368.7 700.6,365.0 C701.6,361.3 703.2,361.9 704.5,362.4 C705.8,362.9 709.2,370.8 711.0,368.9 C712.8,366.9 717.3,347.8 718.8,346.8 C720.3,345.8 721.9,360.3 722.7,361.1 C723.5,361.9 724.6,352.3 725.3,353.3 C725.9,354.3 727.1,369.7 727.9,368.9 C728.7,368.1 730.5,349.7 731.8,346.8 C733.1,343.9 737.1,345.0 738.3,345.5 C739.5,346.0 740.5,352.2 741.7,350.7 C742.8,349.2 746.1,336.0 747.4,333.8 C748.7,331.6 751.2,331.8 752.4,333.2 C753.5,334.6 755.4,344.9 756.2,344.9 C757.1,344.9 758.7,334.7 759.5,333.2 C760.3,331.7 761.8,331.6 762.8,332.6 C763.7,333.5 766.2,340.2 767.3,341.0 C768.4,341.8 770.2,342.2 771.2,339.1 C772.2,335.9 774.2,317.7 775.1,315.6 C776.0,313.6 777.4,322.0 778.4,322.8 C779.3,323.6 781.9,319.2 782.9,322.1 C783.9,325.1 785.0,347.7 786.1,346.2 C787.3,344.7 790.8,313.4 792.0,310.4 C793.2,307.5 794.9,322.0 795.9,322.8 C796.9,323.6 798.9,317.8 799.8,316.9 C800.7,316.1 802.3,317.8 803.0,316.3 C803.8,314.8 804.9,305.2 805.6,305.2 C806.4,305.2 808.0,316.5 808.9,316.3 C809.8,316.1 811.8,302.6 812.8,303.3 C813.8,304.0 815.5,324.9 816.7,322.1 C817.9,319.4 821.3,283.8 822.5,281.2 C823.8,278.6 825.5,297.6 826.5,301.4 C827.4,305.1 829.2,312.1 830.4,311.1 C831.5,310.1 834.4,295.1 835.5,293.6 C836.7,292.0 838.6,298.8 839.5,298.8 C840.3,298.7 841.1,292.1 842.0,292.9 C843.0,293.7 845.9,307.4 847.2,305.2 C848.6,303.1 851.8,277.9 853.1,275.4 C854.4,272.8 856.7,283.6 857.6,285.1 C858.6,286.6 860.2,288.4 860.9,287.7 C861.6,287.0 862.7,280.6 863.0,279.6" fill="none" stroke="#0fae51" stroke-width="3.7" stroke-linejoin="round" stroke-linecap="butt"/>
<path d="M111.4,665.7 L111.7,663.8 L112.1,661.2 L112.5,658.1 L113.0,654.9 L113.4,652.0 L113.8,649.8 L114.2,648.0 L114.7,646.0 L115.1,643.2 L115.4,638.9 L115.5,637.1 L115.6,635.0 L115.7,632.8 L115.8,630.4 L115.9,627.9 L115.9,625.3 L116.0,622.5 L116.1,619.7 L116.2,616.9 L116.2,614.0 L116.3,611.1 L116.4,608.3 L116.4,605.4 L116.5,602.7 L116.6,600.0 L116.7,597.4 L116.8,594.9 L116.8,592.4 L116.9,589.9 L117.0,587.5 L117.1,585.0 L117.2,582.6 L117.3,580.1 L117.3,577.5 L117.4,574.9 L117.5,572.1 L117.6,569.3 L117.7,566.3 L117.8,563.2 L117.9,560.0 L118.0,557.8 L118.0,555.5 L118.1,553.1 L118.2,550.7 L118.3,548.2 L118.3,545.6 L118.4,543.0 L118.5,540.4 L118.6,537.7 L118.7,535.0 L118.7,532.3 L118.8,529.5 L118.9,526.8 L119.0,524.0 L119.1,521.2 L119.2,518.5 L119.2,515.8 L119.3,513.0 L119.4,510.4 L119.5,507.7 L119.6,505.1 L119.6,502.5 L119.7,500.0 L119.8,497.3 L119.9,494.5 L119.9,491.7 L120.0,488.9 L120.1,486.1 L120.2,483.3 L120.2,480.5 L120.3,477.7 L120.4,474.9 L120.5,472.1 L120.5,469.4 L120.6,466.7 L120.7,464.1 L120.8,461.5 L120.8,459.0 L120.9,456.6 L121.0,454.2 L121.0,451.9 L121.1,449.7 L121.1,447.6 L121.2,445.6 L121.3,442.0 L121.4,438.7 L121.5,435.7 L121.6,432.9 L121.6,430.3 L121.7,427.9 L121.8,425.7 L121.8,423.6 L121.9,421.7 L121.9,419.8 L122.0,418.0 L122.1,413.9 L122.2,410.9 L122.3,408.7 L122.5,406.5 L122.8,403.9 L123.1,401.8 L123.6,399.8 L124.2,397.2 L125.7,394.2 L126.8,392.2 L128.1,390.6 L129.7,388.4 L131.4,386.3 L133.3,383.3 L134.7,381.6 L136.3,379.8 L137.9,378.1 L139.6,376.8 L141.4,374.3 L143.4,372.8 L145.4,370.5 L147.1,369.0 L149.0,367.4 L150.9,366.0 L152.9,363.9 L154.9,361.5 L157.0,360.0 L158.9,358.2 L160.8,357.3 L162.5,355.8 L164.7,354.0 L166.5,352.4 L168.3,351.0 L170.1,349.8 L172.2,348.2 L175.0,346.0 L176.9,345.5 L179.0,344.0 L181.3,343.1 L183.7,341.6 L186.2,340.2 L188.8,338.9 L191.3,337.7 L193.7,336.3 L196.0,335.0 L198.1,334.6 L200.0,333.7 L203.1,332.3 L205.3,330.9 L207.2,329.8 L209.4,329.0 L212.5,326.9 L214.3,326.6 L216.3,325.5 L218.4,324.2 L220.7,323.2 L223.0,322.5 L225.4,321.1 L227.9,320.2 L230.3,319.3 L232.8,318.1 L235.2,316.8 L237.5,316.2 L240.0,315.0 L242.6,314.1 L245.2,313.2 L247.9,312.5 L250.5,311.3 L253.0,311.1 L255.6,310.6 L258.0,309.3 L260.3,308.9 L262.5,308.4 L265.4,306.7 L268.0,306.0 L270.5,305.9 L272.9,305.3 L275.2,304.5 L277.6,303.4 L280.0,302.9 L282.5,302.6 L285.1,301.9 L287.6,301.0 L290.2,299.6 L292.7,299.5 L295.1,298.3 L297.5,298.0 L300.0,296.8 L302.2,297.1 L304.4,296.3 L306.7,295.9 L309.3,294.9 L312.5,294.6 L314.5,294.2 L316.6,293.7 L318.9,293.0 L321.3,292.9 L323.7,291.9 L326.3,291.4 L328.9,290.7 L331.6,290.6 L334.4,289.5 L337.2,289.1 L340.0,288.4 L342.3,288.5 L344.6,288.0 L347.0,287.5 L349.4,286.6 L351.9,286.5 L354.4,286.0 L356.9,285.3 L359.5,284.7 L362.1,285.2 L364.7,283.9 L367.3,283.6 L369.9,283.2 L372.4,283.0 L375.0,282.1 L377.6,282.0 L380.2,281.5 L382.8,281.5 L385.5,280.3 L388.1,280.2 L390.8,279.9 L393.5,280.0 L396.1,279.1 L398.8,278.6 L401.4,278.4 L404.0,277.6 L406.5,276.9 L409.0,277.0 L411.5,277.0 L414.3,276.4 L417.0,275.4 L419.7,275.4 L422.4,275.1 L425.0,274.1 L427.5,274.0 L430.1,273.3 L432.6,272.8 L435.2,272.4 L437.8,271.9 L440.4,271.6 L443.0,270.8 L445.6,270.8 L448.2,270.0 L450.7,270.2 L453.1,269.7 L455.6,268.6 L458.2,269.0 L460.7,267.9 L463.4,267.8 L466.1,267.4 L468.9,266.7 L471.9,266.1 L475.0,265.7 L477.2,265.1 L479.4,265.4 L481.8,264.3 L484.2,264.6 L486.7,263.5 L489.2,263.2 L491.7,262.9 L494.3,262.1 L496.9,261.7 L499.5,261.5 L502.2,261.2 L504.8,261.2 L507.4,260.8 L510.0,259.4 L512.6,259.5 L515.1,258.7 L517.6,258.9 L520.0,258.0 L522.7,258.1 L525.4,257.3 L528.0,256.4 L530.7,255.8 L533.3,255.6 L535.9,255.8 L538.5,254.6 L541.1,254.5 L543.7,253.9 L546.2,253.4 L548.8,253.4 L551.3,252.4 L553.9,252.5 L556.4,252.0 L558.9,251.9 L561.4,251.0 L564.0,251.0 L566.6,250.1 L569.0,249.8 L571.5,249.4 L573.9,249.3 L576.3,248.9 L578.6,247.7 L581.1,247.4 L583.5,247.4 L586.0,247.3 L588.6,246.6 L591.3,246.0 L594.1,246.3 L597.0,245.2 L600.0,244.6 L602.3,244.3 L604.6,243.9 L607.0,244.3 L609.4,243.4 L611.9,243.7 L614.5,243.6 L617.0,243.4 L619.7,242.9 L622.3,242.2 L625.0,242.1 L627.7,242.0 L630.4,241.6 L633.2,240.9 L635.9,241.1 L638.7,240.1 L641.4,240.0 L644.2,240.4 L646.9,239.6 L649.6,239.1 L652.3,239.4 L655.0,238.8 L657.6,238.0 L660.2,237.8 L662.8,237.8 L665.5,237.6 L668.2,238.0 L670.9,237.0 L673.6,237.4 L676.4,237.1 L679.1,236.4 L681.8,236.8 L684.6,236.3 L687.3,235.8 L689.9,235.3 L692.6,235.3 L695.2,235.5 L697.8,234.9 L700.3,234.4 L702.8,234.3 L705.2,234.2 L707.5,233.8 L709.8,234.0 L712.0,233.2 L715.1,233.8 L718.0,232.9 L720.8,232.6 L723.5,232.9 L726.0,232.4 L728.5,232.8 L730.9,232.2 L733.3,232.1 L735.6,232.3 L738.0,231.5 L740.3,231.9 L742.6,231.6 L745.0,231.2 L747.5,231.6 L750.0,230.5 L752.6,231.2 L755.2,230.3 L757.8,230.9 L760.4,230.1 L763.0,229.8 L765.7,230.1 L768.3,230.4 L770.9,229.6 L773.6,229.7 L776.2,229.7 L778.8,229.2 L781.4,229.4 L783.9,228.7 L786.5,229.0 L789.0,229.2 L791.7,228.6 L794.3,228.3 L796.9,228.0 L799.4,228.4 L802.0,228.0 L804.5,228.3 L807.0,228.0 L809.5,227.1 L812.0,227.8 L814.6,227.6 L817.1,227.3 L819.7,227.2 L822.3,226.9 L825.0,226.7 L827.6,226.5 L830.4,226.3 L833.2,225.7 L836.2,225.4 L839.2,225.8 L842.3,225.5 L845.3,224.8 L848.2,225.2 L851.1,225.0 L853.8,224.7 L856.3,224.8 L858.6,224.8 L860.7,224.2 L862.5,224.5 L864.0,224.1" fill="none" stroke="#ff0000" stroke-width="3.8" stroke-linejoin="round" stroke-linecap="butt"/>
<path d="M112.2,741.1 C112.8,739.0 116.0,725.5 117.3,724.2 C118.7,722.9 121.8,729.2 123.2,730.7 C124.6,732.2 127.0,737.5 128.4,735.9 C129.8,734.3 132.9,718.2 134.2,717.7 C135.6,717.2 138.4,731.0 139.4,732.0 C140.5,733.0 142.1,724.9 142.7,725.5 C143.3,726.1 143.3,738.0 144.0,737.2 C144.7,736.4 146.8,720.6 147.9,719.0 C149.0,717.4 151.3,722.6 152.4,724.2 C153.6,725.8 155.9,731.4 157.0,732.0 C158.1,732.6 160.0,732.4 160.9,729.4 C161.8,726.4 163.3,709.2 164.2,708.0 C165.0,706.7 166.8,718.4 167.4,719.0 C168.1,719.6 168.8,711.0 169.3,712.5 C169.9,714.0 171.1,730.9 171.9,730.7 C172.8,730.5 174.6,712.8 175.8,711.2 C177.1,709.6 180.5,716.7 181.7,717.7 C182.9,718.7 184.6,716.6 185.6,719.0 C186.6,721.4 188.4,740.1 189.5,737.2 C190.6,734.3 193.6,698.0 194.7,695.6 C195.8,693.2 197.6,714.0 198.6,717.7 C199.6,721.4 201.7,726.6 202.5,725.5 C203.3,724.4 204.3,710.1 205.1,708.6 C205.9,707.1 208.0,714.0 209.0,713.8 C210.0,713.6 211.9,707.3 212.9,707.3 C213.9,707.3 215.9,710.8 216.8,713.8 C217.7,716.8 219.2,732.2 220.1,731.4 C220.9,730.5 222.2,709.7 223.3,707.3 C224.4,704.9 227.3,709.7 228.5,712.5 C229.7,715.3 232.2,727.3 233.0,729.4 C233.9,731.5 234.2,732.4 235.0,729.1 C235.8,725.8 238.4,704.9 239.4,703.0 C240.3,701.0 241.8,710.7 242.9,713.4 C243.9,716.2 246.8,726.1 248.1,724.8 C249.4,723.5 252.2,704.6 253.3,703.0 C254.4,701.3 255.8,709.5 256.8,711.7 C257.8,713.9 259.9,721.5 261.2,720.4 C262.5,719.3 265.7,703.8 267.3,703.0 C268.9,702.1 272.5,712.1 274.3,713.4 C276.0,714.7 279.9,714.7 281.2,713.4 C282.6,712.1 284.0,703.2 284.7,703.0 C285.5,702.7 286.6,710.4 287.4,711.7 C288.1,713.0 289.9,714.3 290.8,713.4 C291.8,712.6 294.1,706.2 295.2,704.7 C296.3,703.2 298.4,700.9 299.6,701.2 C300.8,701.5 303.3,706.6 304.8,707.3 C306.3,708.1 310.5,708.7 311.8,707.3 C313.1,705.9 314.0,695.2 315.3,696.0 C316.6,696.7 320.8,713.5 322.3,713.4 C323.7,713.3 325.8,697.4 326.6,695.1 C327.5,692.8 328.6,696.4 329.2,695.1 C329.9,693.8 331.1,683.0 331.9,684.6 C332.6,686.3 334.4,705.7 335.3,708.2 C336.3,710.7 338.7,707.0 339.7,704.7 C340.7,702.4 341.9,689.4 343.2,689.9 C344.5,690.3 348.7,707.9 350.2,708.2 C351.7,708.5 354.1,695.7 355.0,692.0 C355.9,688.3 356.8,677.2 357.6,679.0 C358.4,680.8 360.2,702.7 361.5,706.3 C362.8,709.9 366.5,709.5 368.0,707.6 C369.5,705.7 372.0,690.7 373.2,690.7 C374.4,690.7 376.7,707.0 377.9,707.6 C379.0,708.2 381.1,697.4 382.3,695.9 C383.5,694.4 386.5,694.4 387.5,695.9 C388.5,697.4 389.4,709.1 390.1,707.6 C390.8,706.1 392.3,684.4 393.5,684.2 C394.6,684.0 398.2,704.2 399.2,706.3 C400.2,708.4 401.0,700.9 401.8,701.1 C402.6,701.3 404.6,706.8 405.7,707.6 C406.8,708.4 409.7,709.9 410.9,707.6 C412.1,705.3 414.3,691.7 415.3,689.4 C416.3,687.1 417.9,690.0 418.7,689.4 C419.5,688.8 421.2,682.7 422.1,684.2 C423.0,685.7 424.5,701.8 425.7,701.1 C426.9,700.5 430.1,677.5 431.7,679.0 C433.3,680.5 436.5,712.8 438.2,712.8 C439.9,712.8 444.2,680.5 445.5,679.0 C446.8,677.5 447.8,700.3 448.6,701.1 C449.4,701.9 450.9,685.5 451.7,685.5 C452.5,685.5 454.0,701.9 455.1,701.1 C456.2,700.3 459.0,679.6 460.3,679.0 C461.6,678.4 464.5,694.6 465.5,695.9 C466.5,697.2 467.4,688.1 468.1,689.4 C468.8,690.7 470.6,706.3 471.5,706.3 C472.4,706.3 474.1,691.5 475.1,689.4 C476.2,687.3 478.9,690.0 479.8,689.4 C480.7,688.8 481.3,683.4 482.4,684.2 C483.5,685.0 487.8,695.1 488.9,695.9 C490.0,696.7 490.9,690.7 491.5,690.7 C492.1,690.7 493.5,697.4 494.1,695.9 C494.8,694.4 495.8,677.5 496.7,679.0 C497.6,680.5 500.0,706.3 501.1,707.6 C502.3,708.9 504.6,693.0 505.8,689.4 C507.0,685.8 509.2,677.5 510.5,679.0 C511.7,680.5 514.3,701.9 515.7,701.1 C517.0,700.3 520.0,674.6 521.4,672.5 C522.8,670.4 525.3,682.6 526.6,684.2 C527.9,685.8 530.5,686.1 531.8,685.5 C533.1,684.9 535.9,677.7 537.0,679.0 C538.1,680.3 540.0,695.1 540.9,695.9 C541.8,696.7 543.1,688.4 544.3,685.5 C545.4,682.6 548.4,671.2 550.0,672.5 C551.6,673.8 555.7,695.1 557.3,695.9 C558.9,696.7 561.3,681.1 563.0,679.0 C564.7,676.9 569.4,678.2 570.8,679.0 C572.2,679.8 573.3,685.5 573.9,685.5 C574.6,685.5 575.5,678.5 576.0,679.0 C576.5,679.5 577.4,688.9 578.1,689.4 C578.8,689.9 580.8,684.9 581.7,682.9 C582.6,680.9 584.0,673.0 585.1,673.8 C586.2,674.6 588.8,690.2 590.3,689.4 C591.8,688.6 595.5,668.6 596.8,667.3 C598.1,666.0 599.7,676.2 600.7,679.0 C601.7,681.8 604.1,688.1 604.6,689.4 C605.1,690.7 604.4,692.3 605.0,689.4 C605.6,686.5 608.7,666.6 609.7,666.0 C610.7,665.4 611.8,680.5 612.8,684.2 C613.8,687.9 616.6,697.4 618.0,695.9 C619.4,694.4 622.3,673.3 623.7,672.5 C625.2,671.7 628.5,687.9 629.7,689.4 C630.9,690.9 632.5,688.4 633.6,684.2 C634.7,680.0 637.2,657.1 638.3,655.6 C639.3,654.1 641.0,670.2 641.9,672.5 C642.8,674.8 644.2,672.7 645.3,673.8 C646.4,674.9 649.2,681.0 650.5,681.6 C651.8,682.2 654.6,678.7 655.7,679.0 C656.8,679.3 658.3,685.8 659.6,684.2 C660.9,682.6 664.8,667.5 666.1,666.0 C667.4,664.5 668.5,670.2 670.0,672.5 C671.5,674.8 676.5,683.4 677.8,684.2 C679.1,685.0 679.8,679.6 680.4,679.0 C681.0,678.4 681.8,680.6 683.0,679.0 C684.2,677.4 688.7,666.8 690.3,666.0 C691.9,665.2 694.9,672.5 696.0,672.5 C697.1,672.5 698.2,666.0 699.1,666.0 C700.0,666.0 702.4,671.7 703.3,672.5 C704.2,673.3 705.4,671.9 706.4,672.5 C707.4,673.1 710.0,678.5 711.1,677.7 C712.1,676.9 713.7,665.2 714.7,666.0 C715.8,666.8 718.5,683.4 719.4,684.2 C720.3,685.0 720.2,674.0 722.0,672.5 C723.8,671.0 731.8,671.7 733.7,672.5 C735.6,673.3 736.2,679.6 737.1,679.0 C738.0,678.4 739.7,667.9 740.7,667.3 C741.8,666.6 744.5,673.8 745.4,673.8 C746.3,673.8 747.1,666.8 748.0,667.3 C748.9,667.8 751.7,677.9 752.7,677.7 C753.7,677.5 754.8,666.6 755.8,666.0 C756.8,665.4 759.5,672.3 760.5,672.5 C761.5,672.7 762.5,668.1 763.6,667.3 C764.7,666.5 767.9,667.5 769.3,666.0 C770.8,664.5 774.1,655.6 775.3,655.6 C776.5,655.6 777.7,661.0 778.7,666.0 C779.7,671.0 782.1,696.5 783.1,695.9 C784.1,695.2 786.0,664.5 787.0,660.8 C788.0,657.1 790.1,666.0 790.9,666.0 C791.7,666.0 792.4,660.0 793.5,660.8 C794.6,661.6 798.3,674.0 799.5,672.5 C800.7,671.0 802.2,649.9 803.1,649.1 C804.0,648.3 805.4,661.0 806.5,666.0 C807.6,671.0 810.6,689.2 811.7,689.4 C812.8,689.6 814.1,668.8 815.1,667.3 C816.1,665.8 818.5,678.5 819.5,677.7 C820.5,676.9 822.3,661.4 823.4,660.8 C824.5,660.1 827.5,672.5 828.6,672.5 C829.7,672.5 831.4,661.4 832.5,660.8 C833.6,660.1 836.2,666.5 837.7,667.3 C839.2,668.1 843.0,668.8 844.2,667.3 C845.4,665.8 846.5,655.0 847.3,655.6 C848.1,656.2 850.0,671.9 850.7,672.5 C851.4,673.1 852.5,661.4 853.3,660.8 C854.1,660.1 856.2,667.9 857.2,667.3 C858.2,666.6 860.4,656.6 861.1,655.6 C861.8,654.6 862.9,659.0 863.2,659.5" fill="none" stroke="#ff0000" stroke-width="3.7" stroke-linejoin="round" stroke-linecap="butt"/>
<ellipse cx="334.1" cy="308.5" rx="41.2" ry="119.1" fill="none" stroke="#ff0000" stroke-width="7.2"/>
<path d="M336,189.6 L210,188" stroke="#ff0000" stroke-width="7.4" fill="none"/>
<path d="M189,187.6 L211.5,176.4 L211.5,199 Z" fill="#ff0000"/>
<ellipse cx="615.5" cy="563" rx="42" ry="191" fill="none" stroke="#000" stroke-width="7.2"/>
<path d="M613,373 L784,373" stroke="#000" stroke-width="7.4" fill="none"/>
<path d="M804.2,373.5 L782.6,362.4 L782.6,384.8 Z" fill="#000"/>
<text transform="translate(484.4,26.0) scale(1,1.045)" text-anchor="middle" fill="#000" stroke="#000">Current [µA]</text>
<text transform="translate(106.5,88) scale(1,1.045)" text-anchor="middle" fill="#000" stroke="#000">0</text>
<text transform="translate(478,87.8) scale(1,1.045)" text-anchor="middle" fill="#000" stroke="#000">26</text>
<text transform="translate(865,88) scale(1,1.045)" text-anchor="middle" fill="#000" stroke="#000">52</text>
<text transform="translate(76,755.3) scale(1,1.045)" text-anchor="middle" fill="#ff0000" stroke="#ff0000">0</text>
<text transform="translate(76,651.8) scale(1,1.045)" text-anchor="middle" fill="#ff0000" stroke="#ff0000">1</text>
<text transform="translate(76,548.2) scale(1,1.045)" text-anchor="middle" fill="#ff0000" stroke="#ff0000">2</text>
<text transform="translate(76,444.7) scale(1,1.045)" text-anchor="middle" fill="#ff0000" stroke="#ff0000">3</text>
<text transform="translate(76,341.2) scale(1,1.045)" text-anchor="middle" fill="#ff0000" stroke="#ff0000">4</text>
<text transform="translate(76,237.6) scale(1,1.045)" text-anchor="middle" fill="#ff0000" stroke="#ff0000">5</text>
<text transform="translate(76,134.1) scale(1,1.045)" text-anchor="middle" fill="#ff0000" stroke="#ff0000">6</text>
<text transform="translate(914,125) scale(1,1.045)" text-anchor="middle" fill="#000" stroke="#000">1</text>
<text transform="translate(910,252) scale(1,1.045)" text-anchor="middle" fill="#000" stroke="#000">0.8</text>
<text transform="translate(910,378) scale(1,1.045)" text-anchor="middle" fill="#000" stroke="#000">0.6</text>
<text transform="translate(910,497) scale(1,1.045)" text-anchor="middle" fill="#000" stroke="#000">0.4</text>
<text transform="translate(910,632.5) scale(1,1.045)" text-anchor="middle" fill="#000" stroke="#000">0.2</text>
<text transform="translate(902.5,756.4) scale(1,1.045)" text-anchor="middle" fill="#000" stroke="#000">0</text>
<text transform="translate(111.4,798) scale(1,1.045)" text-anchor="middle" fill="#000" stroke="#000">0</text>
<text transform="translate(261.6,798) scale(1,1.045)" text-anchor="middle" fill="#000" stroke="#000">2</text>
<text transform="translate(411.8,798) scale(1,1.045)" text-anchor="middle" fill="#000" stroke="#000">4</text>
<text transform="translate(561.9,798) scale(1,1.045)" text-anchor="middle" fill="#000" stroke="#000">6</text>
<text transform="translate(712.1,798) scale(1,1.045)" text-anchor="middle" fill="#000" stroke="#000">8</text>
<text transform="translate(862.9,798) scale(1,1.045)" text-anchor="middle" fill="#000" stroke="#000">10</text>
<text transform="translate(126.2,151.8) scale(1,1.045)" text-anchor="start" fill="#000" stroke="#000">RT</text>
<text transform="translate(476.2,851.8) scale(1,1.045)" text-anchor="middle" fill="#000" stroke="#000">Current density [A/cm<tspan font-size="25" dy="-12.5">2</tspan><tspan dy="12.5">]</tspan></text>
<text transform="translate(26.8,416.8) rotate(-90)" text-anchor="middle" fill="#ff0000" stroke="#ff0000">Voltage [V]</text>
<text transform="translate(991.2,443.8) rotate(-90)" text-anchor="middle" fill="#000" stroke="#000">Light intensity [µW]</text>
</svg></body></html>
